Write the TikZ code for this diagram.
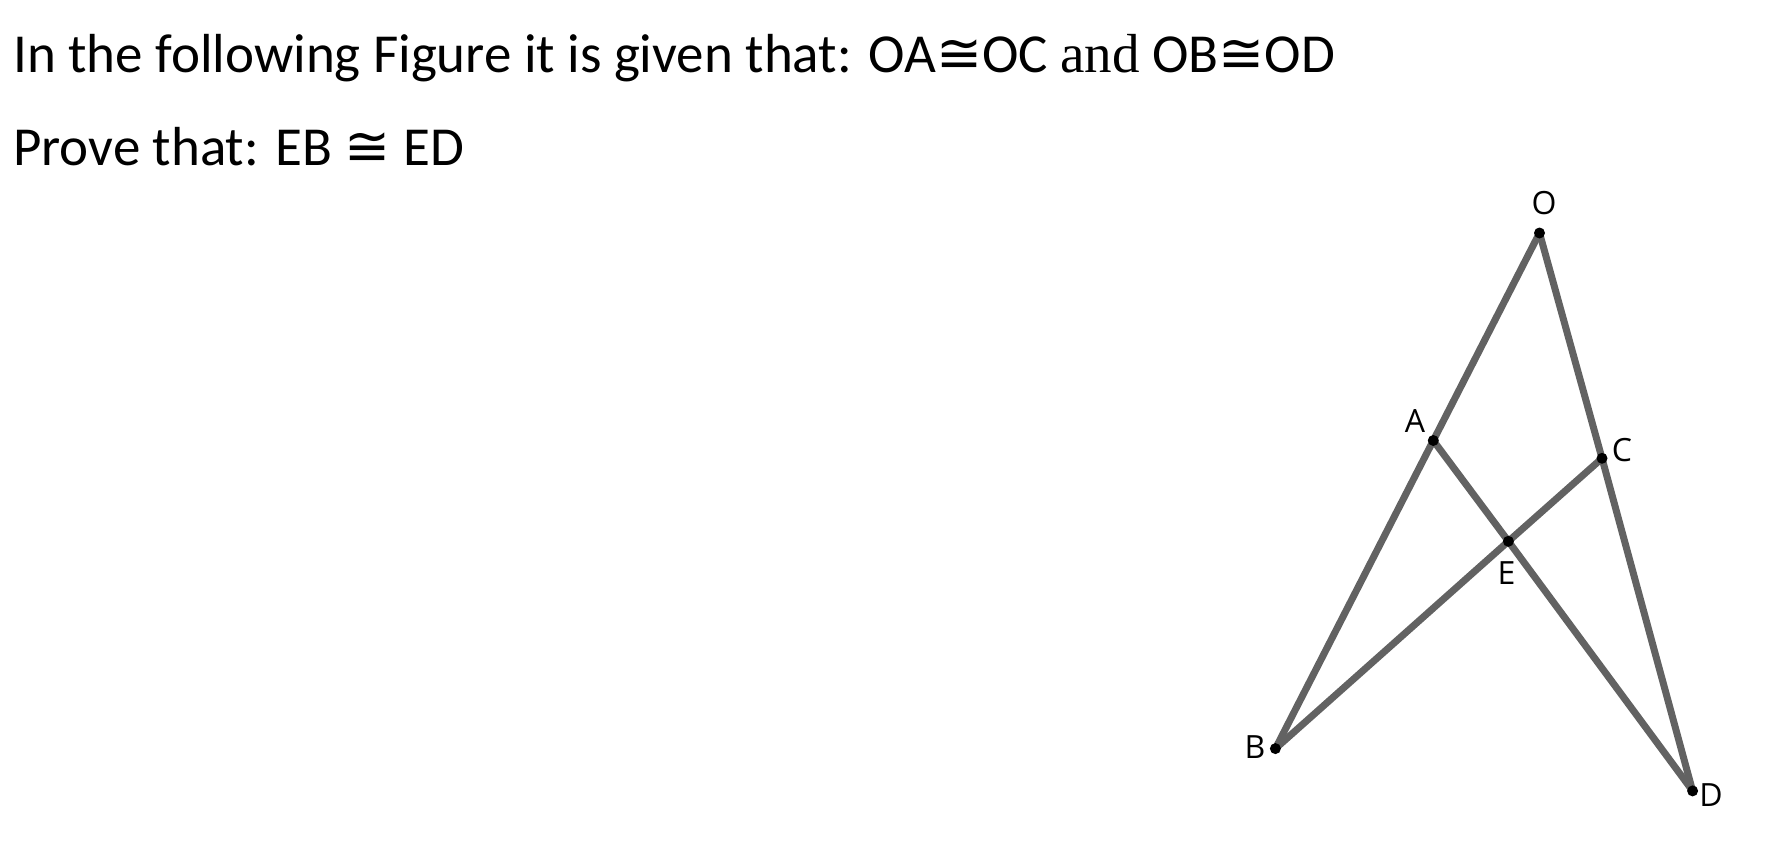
\documentclass[tikz,border=0pt]{standalone}
\usepackage{fontspec}
\setmainfont{Carlito}
\newfontfamily\serifx{Liberation Serif}
\newfontfamily\symx{DejaVu Sans}
\newfontfamily\labelx{Open Sans}
\definecolor{segc}{RGB}{98,98,98}
\begin{document}
\begin{tikzpicture}[x=1pt,y=-1pt,
  seg/.style={line width=7pt, draw=segc, line cap=round},
  dot/.style={circle, fill=black, inner sep=0pt, minimum size=11pt},
  lab/.style={font=\labelx\fontsize{32}{32}\selectfont, inner sep=0pt},
  txt/.style={anchor=base west, inner sep=0pt, font=\fontsize{55}{55}\selectfont}]
\useasboundingbox (0,0) rectangle (1792,864);
\node[txt] (t1) at (13,73) {In the following Figure it is given that: OA{\symx ≅}OC {\serifx and} OB{\symx ≅}OD};
\node[txt] (t2) at (13,166) {Prove that: EB {\symx ≅} ED};
\coordinate (O) at (1539.5,233);
\coordinate (A) at (1433.3,440.5);
\coordinate (B) at (1275.4,748.6);
\coordinate (C) at (1602,458.3);
\coordinate (D) at (1692.6,790.9);
\coordinate (E) at (1508.4,541.3);
\draw[seg] (O) -- (A) -- (B);
\draw[seg] (O) -- (C) -- (D);
\draw[seg] (A) -- (E) -- (D);
\draw[seg] (B) -- (E) -- (C);
\foreach \p in {O,A,B,C,D,E} \node[dot] (d\p) at (\p) {};
\node[lab] (lO) at (1544,203) {O};
\node[lab] (lA) at (1415,421.5) {A};
\node[lab] (lC) at (1622,450) {C};
\node[lab] (lE) at (1506.5,573) {E};
\node[lab] (lB) at (1255,747) {B};
\node[lab] (lD) at (1711,795) {D};
\end{tikzpicture}
\end{document}
